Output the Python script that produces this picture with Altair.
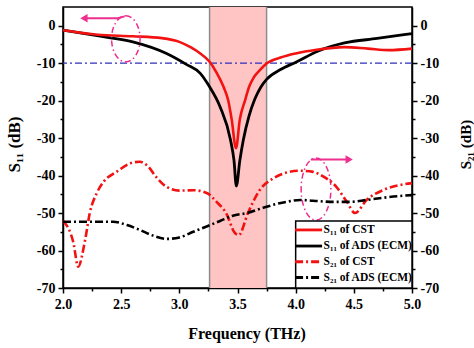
import altair as alt
import pandas as pd

# ---------------- data ----------------
F_S11_CST = [2.0, 2.3, 2.6, 2.85, 3.0, 3.1, 3.18, 3.26, 3.32, 3.38, 3.42, 3.45, 3.487,
             3.52, 3.565, 3.6, 3.64, 3.7, 3.75, 3.87, 4.0, 4.18, 4.42, 4.62, 4.8, 5.0]
DB_S11_CST = [-1.2, -2.4, -2.8, -3.3, -4.3, -5.8, -7.4, -9.6, -12.5, -16.3, -19.9, -25.0, -32.7,
              -25.0, -19.9, -16.3, -13.8, -11.6, -10.1, -8.5, -7.4, -6.4, -5.7, -6.1, -6.5, -6.1]

F_S11_ADS = [2.0, 2.32, 2.6, 2.89, 3.06, 3.18, 3.26, 3.35, 3.44, 3.47, 3.49, 3.52, 3.55,
             3.6, 3.65, 3.7, 3.75, 3.87, 4.01, 4.19, 4.42, 4.7, 5.0]
DB_S11_ADS = [-1.2, -2.8, -4.3, -7.4, -10.3, -12.7, -16.3, -21.6, -30.5, -36.0, -42.8, -36.0, -30.5,
              -24.0, -19.5, -16.4, -14.3, -11.7, -9.6, -6.8, -4.6, -3.4, -2.1]

F_S21_CST = [2.0, 2.09, 2.13, 2.19, 2.23, 2.29, 2.35, 2.46, 2.58, 2.66, 2.72, 2.81, 2.89, 3.0,
             3.12, 3.24, 3.32, 3.41, 3.47, 3.51, 3.59, 3.69, 3.81, 3.92, 4.04, 4.15, 4.24, 4.35,
             4.44, 4.51, 4.61, 4.75, 4.9, 5.0]
DB_S21_CST = [-52.1, -58.0, -64.3, -57.2, -50.0, -44.7, -41.6, -39.0, -36.7, -36.3, -37.2, -40.7,
              -43.0, -44.0, -43.9, -44.7, -47.0, -50.5, -55.0, -55.9, -50.0, -43.9, -40.7, -39.2,
              -38.7, -39.0, -40.3, -43.0, -47.0, -50.0, -46.5, -43.9, -42.5, -42.0]

F_S21_ADS = [2.0, 2.26, 2.43, 2.55, 2.66, 2.78, 2.89, 3.0, 3.12, 3.24, 3.35, 3.46, 3.58, 3.75,
             3.92, 4.04, 4.15, 4.3, 4.47, 4.61, 4.84, 5.0]
DB_S21_ADS = [-52.3, -52.3, -52.3, -53.2, -54.5, -56.1, -56.9, -56.5, -55.0, -53.5, -52.1, -50.7,
              -50.0, -48.3, -47.0, -46.5, -46.7, -47.0, -47.0, -46.5, -45.6, -45.2]

BAND = [3.26, 3.75]          # shaded frequency band (THz)
THRESHOLD = [-10]            # dB reference line

LEGEND_LABELS = ["S\u2081\u2081 of CST", "S\u2081\u2081 of ADS (ECM)",
                 "S\u2082\u2081 of CST", "S\u2082\u2081 of ADS (ECM)"]
LEGEND_ROWS_DB = [-54.5, -58.8, -63.0, -67.2]
LEGEND_BOX = {"f0": [4.0], "f1": [5.0], "d0": [-52.1], "d1": [-70.0]}

# annotation (ellipse centres and arrows) in data coordinates
ELL_F = [2.54, 4.175]
ELL_DB = [-3.5, -43.6]
ARROW1_F = [2.18, 2.47, 2.53]
ARROW1_DB = [2.0, 2.0, 2.5]
ARROW2_F = [4.13, 4.46]
ARROW2_DB = [-35.7, -35.7]

# ---------------- styling ----------------
FONT = "Liberation Serif"
RED = "#f21212"
BLACK = "#000000"
PINK = "#ee2f8f"
DASHDOT = [8, 3, 2, 3]

x_enc = alt.X(
    "f:Q",
    scale=alt.Scale(domain=[2, 5], nice=False, zero=False),
    axis=alt.Axis(
        title="Frequency (THz)",
        values=[2 + 0.25 * i for i in range(13)],
        labelExpr="abs(datum.value*2 - round(datum.value*2)) < 0.01 ? format(datum.value, '.1f') : ''",
        tickSize={"condition": {"test": "abs(datum.value*2 - round(datum.value*2)) > 0.01", "value": 3}, "value": 5},
        labelFontSize=14, titleFontSize=16, labelPadding=4,
        labelFlush=False, labelOverlap=False,
        labelFont=FONT, titleFont=FONT, labelFontWeight="bold", titleFontWeight="bold",
        titleX=183.5, titleY=45, titleBaseline="middle",
    ),
)

YSCALE = alt.Scale(domain=[-70, 5], nice=False, zero=False)


def y_axis(orient, title, title_x, title_size):
    return alt.Axis(
        orient=orient, title=title,
        values=list(range(-70, 1, 5)),
        labelExpr="datum.value % 10 === 0 ? toString(datum.value) : ''",
        tickSize={"condition": {"test": "datum.value % 10 !== 0", "value": 3}, "value": 5},
        labelFontSize=14, titleFontSize=title_size, labelPadding=3,
        labelFlush=False, labelOverlap=False,
        labelFont=FONT, titleFont=FONT, labelFontWeight="bold", titleFontWeight="bold",
        titleAngle=270, titleBaseline="middle", titleX=title_x, titleY=137,
    )


y_left = alt.Y("db:Q", scale=YSCALE, axis=y_axis("left", "S\u2081\u2081 (dB)", -49, 17))
y_right = alt.Y("db:Q", scale=YSCALE, axis=y_axis("right", "S\u2082\u2081 (dB)", 53, 15))


def df(f, d):
    return pd.DataFrame({"f": f, "db": d})


band = alt.Chart(pd.DataFrame({"f": [BAND[0]], "f2": [BAND[1]]})).mark_rect(
    color="#ffc4c4"
).encode(x=x_enc, x2="f2:Q")

band_edges = alt.Chart(pd.DataFrame({"f": BAND})).mark_rule(
    color="#8c8c8c", strokeWidth=1.5
).encode(x=x_enc)

thresh = alt.Chart(pd.DataFrame({"db": THRESHOLD})).mark_rule(
    color="#2f2fbb", strokeWidth=1.3, strokeDash=[7, 3, 2, 3]
).encode(y=y_left)


def line(f, d, color, dash, y, width=2.6):
    kw = dict(color=color, strokeWidth=width, interpolate="monotone")
    if dash:
        kw["strokeDash"] = dash
    return alt.Chart(df(f, d)).mark_line(**kw).encode(x=x_enc, y=y, order="f:Q")


s11_ads = line(F_S11_ADS, DB_S11_ADS, BLACK, None, y_left, 2.8)
s11_cst = line(F_S11_CST, DB_S11_CST, RED, None, y_left)

ell1 = alt.Chart(df([ELL_F[0]], [ELL_DB[0]])).mark_point(
    shape="M 0 -1 A 0.62 1 0 1 1 0 1 A 0.62 1 0 1 1 0 -1 Z",
    size=2116, filled=False, color=PINK, strokeWidth=1.5, strokeDash=[6, 3, 1.5, 3], opacity=1
).encode(x=x_enc, y=y_left)
ell2 = alt.Chart(df([ELL_F[1]], [ELL_DB[1]])).mark_point(
    shape="M 0 -1 A 0.48 1 0 1 1 0 1 A 0.48 1 0 1 1 0 -1 Z",
    size=3844, filled=False, color=PINK, strokeWidth=1.5, strokeDash=[6, 3, 1.5, 3], opacity=1
).encode(x=x_enc, y=y_left)

arr1 = alt.Chart(df(ARROW1_F, ARROW1_DB)).mark_line(color=PINK, strokeWidth=1.8).encode(
    x=x_enc, y=y_left, order="f:Q")
arr1_head = alt.Chart(df([ARROW1_F[0]], [ARROW1_DB[0]])).mark_point(
    shape="triangle-left", size=70, filled=True, color=PINK, opacity=1).encode(x=x_enc, y=y_left)
arr2 = alt.Chart(df(ARROW2_F, ARROW2_DB)).mark_line(color=PINK, strokeWidth=1.8).encode(
    x=x_enc, y=y_left, order="f:Q")
arr2_head = alt.Chart(df([ARROW2_F[-1]], [ARROW2_DB[-1]])).mark_point(
    shape="triangle-right", size=70, filled=True, color=PINK, opacity=1).encode(x=x_enc, y=y_left)

left = alt.layer(band, band_edges, thresh, s11_ads, s11_cst, ell1, ell2, arr1, arr1_head, arr2, arr2_head)

s21_cst = line(F_S21_CST, DB_S21_CST, RED, DASHDOT, y_right)
s21_ads = line(F_S21_ADS, DB_S21_ADS, BLACK, DASHDOT, y_right)

legend_box = alt.Chart(pd.DataFrame(LEGEND_BOX).rename(columns={"f0": "f", "d0": "db"})).mark_rect(
    fill="white", stroke="black", strokeWidth=1.5
).encode(x=x_enc, x2="f1:Q", y=y_right, y2="d1:Q")

leg_colors = [RED, BLACK, RED, BLACK]
leg_dashes = [None, None, DASHDOT, DASHDOT]
leg_layers = []
for i in range(4):
    kw = dict(color=leg_colors[i], strokeWidth=2.8)
    if leg_dashes[i]:
        kw["strokeDash"] = leg_dashes[i]
    leg_layers.append(
        alt.Chart(pd.DataFrame({"f": [3.995], "f2": [4.227], "db": [LEGEND_ROWS_DB[i]]}))
        .mark_rule(**kw).encode(x=x_enc, x2="f2:Q", y=y_right)
    )
leg_text = alt.Chart(pd.DataFrame({"f": [4.24] * 4, "db": LEGEND_ROWS_DB, "t": LEGEND_LABELS})).mark_text(
    align="left", baseline="middle", font=FONT, fontWeight="bold", fontSize=11.5, color="black"
).encode(x=x_enc, y=y_right, text="t:N")

right = alt.layer(s21_cst, s21_ads, legend_box, *leg_layers, leg_text)

chart = (
    alt.layer(left, right)
    .resolve_scale(y="independent")
    .properties(width=349, height=281,
                background="white",
                autosize=alt.AutoSizeParams(type="none"),
                padding={"left": 63, "top": 7, "right": 62, "bottom": 60})
    .configure_view(stroke="black", strokeWidth=1.5)
    .configure_axis(labelColor="black", titleColor="black", domainColor="black", tickColor="black",
                    domainWidth=1.5, tickWidth=1.5, grid=False)
)

chart.save("out.html", embed_options={"renderer": "svg", "actions": False})
